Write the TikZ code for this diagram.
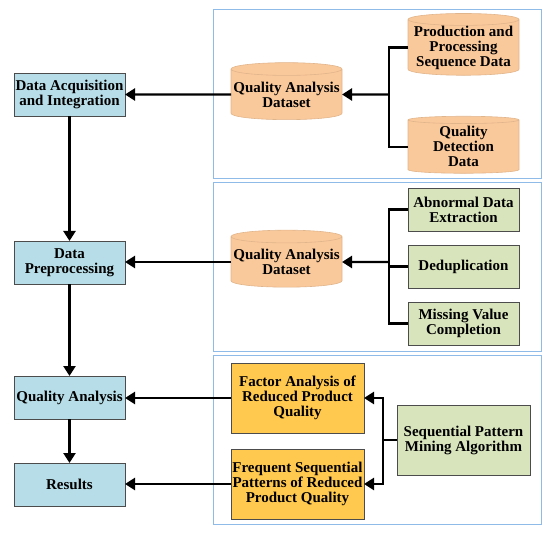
\documentclass[tikz,border=0pt]{standalone}
\usepackage{fontspec}
\setmainfont{Liberation Serif}
\usetikzlibrary{arrows.meta, positioning, shapes.geometric}
\definecolor{stepblue}{HTML}{B7DEE8}
\definecolor{dataorange}{HTML}{FAC99B}
\definecolor{opgreen}{HTML}{D8E4BC}
\definecolor{resultyellow}{HTML}{FFC94F}
\definecolor{panelblue}{HTML}{8FBBE8}
\begin{document}
\begin{tikzpicture}[
    x=1pt, y=-1pt,
    node distance=10pt and 10pt,
    % === STYLES ===
    stepbox/.style={
        rectangle,
        draw=black!70,
        fill=stepblue,
        line width=0.9pt,
        outer sep=0pt,
        inner sep=0pt,
        minimum width=111pt,
        minimum height=43pt,
        text centered,
        align=center,
        font=\fontsize{15}{15}\selectfont\bfseries
    },
    dataset/.style={
        cylinder,
        shape border rotate=90,
        draw=dataorange!90!black,
        fill=dataorange,
        line width=0.6pt,
        outer sep=0pt,
        inner sep=0pt,
        minimum width=111pt,
        minimum height=57pt,
        aspect=0.12,
        text centered,
        align=center,
        font=\fontsize{15}{15}\selectfont\bfseries
    },
    opbox/.style={
        stepbox,
        fill=opgreen
    },
    resultbox/.style={
        stepbox,
        fill=resultyellow,
        minimum width=133pt,
        minimum height=70pt
    },
    panel/.style={
        rectangle,
        draw=panelblue,
        line width=1pt,
        outer sep=0pt,
        minimum width=328pt,
        minimum height=169pt
    },
    arrow/.style={
        -{Triangle[length=10pt,width=12pt]},
        line width=2.4pt,
        color=black
    },
    busline/.style={
        line width=2.4pt,
        color=black
    }
]
\useasboundingbox (0,0) rectangle (550,535);

% === PANELS ===
\node[panel] (panelA) at (377.5,94) {};
\node[panel, below=4pt of panelA] (panelB) {};
\node[panel, below=4pt of panelB] (panelC) {};

% === LEFT COLUMN ===
\node[stepbox] (acquire) at (69.5,94.5) {Data Acquisition\\and Integration};
\node[stepbox, below=125pt of acquire] (preproc) {Data\\Preprocessing};
\node[stepbox, below=92pt of preproc] (quality) {Quality Analysis};
\node[stepbox, below=44pt of quality] (results) {Results};

% === TOP PANEL ===
\node[dataset] (datasetA) at (286.5,94.5) {Quality Analysis\\Dataset};
\node[dataset] (prodseq) at (463.5,47.5) {Production and\\Processing\\Sequence Data};
\node[dataset, below=41pt of prodseq] (detect) {Quality\\Detection\\Data};

% === MIDDLE PANEL ===
\node[dataset] (datasetB) at (286.5,262) {Quality Analysis\\Dataset};
\node[opbox] (abnormal) at (463.5,209.5) {Abnormal Data\\Extraction};
\node[opbox, below=14pt of abnormal] (dedup) {Deduplication};
\node[opbox, below=14pt of dedup] (missing) {Missing Value\\Completion};

% === BOTTOM PANEL ===
\node[resultbox] (factor) at (297.5,398) {Factor Analysis of\\Reduced Product\\Quality};
\node[resultbox, below=16pt of factor] (frequent) {Frequent Sequential\\Patterns of Reduced\\Product Quality};
\node[stepbox, fill=opgreen, minimum width=133pt, minimum height=70pt] (mining) at (463.5,440) {Sequential Pattern\\Mining Algorithm};

% === CONNECTIONS ===
\draw[arrow] (acquire) -- (preproc);
\draw[arrow] (preproc) -- (quality);
\draw[arrow] (quality) -- (results);

\draw[arrow] (datasetA.west) -- (acquire.east);
\draw[arrow] (datasetB.west) -- (preproc.east |- datasetB.west);
\draw[arrow] (factor.west) -- (quality.east |- factor.west);
\draw[arrow] (frequent.west) -- (results.east |- frequent.west);

% Top bus
\coordinate (busA) at (389,94.5);
\draw[busline] (prodseq.west) -| (busA) |- (detect.west);
\draw[arrow] (busA) -- (datasetA.east);

% Middle bus
\coordinate (busB) at (389,262);
\draw[busline] (abnormal.west) -| (busB) |- (missing.west);
\draw[busline] (dedup.west) -- (dedup.west -| busB);
\draw[arrow] (busB) -- (datasetB.east);

% Bottom bus
\coordinate (busC) at (383,440);
\draw[busline] (mining.west) -- (busC);
\draw[arrow] (busC) |- (factor.east);
\draw[arrow] (busC) |- (frequent.east);

\end{tikzpicture}
\end{document}
